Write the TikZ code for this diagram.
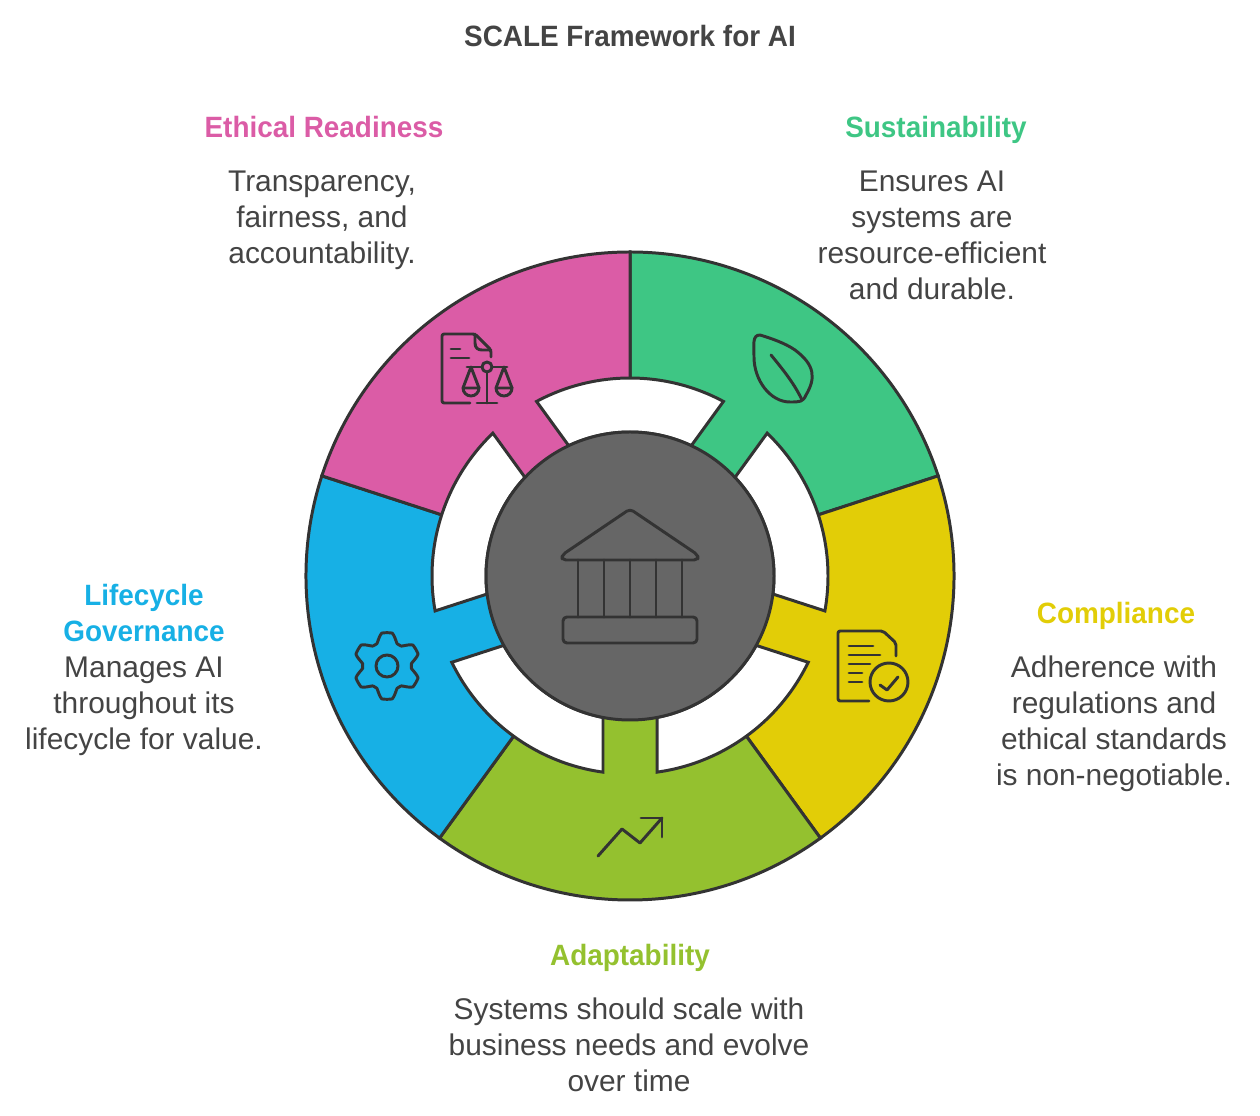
\documentclass[tikz,border=0pt]{standalone}
\usepackage{fontspec}
\setmainfont[BoldFeatures={FakeStretch=0.95}]{Liberation Sans}
\definecolor{framePink}{HTML}{DB5CA6}
\definecolor{frameGreen}{HTML}{3EC684}
\definecolor{frameYellow}{HTML}{E2CD07}
\definecolor{frameLime}{HTML}{94C12F}
\definecolor{frameBlue}{HTML}{17B0E5}
\definecolor{frameGrey}{HTML}{666666}
\definecolor{frameLine}{HTML}{333333}
\definecolor{frameText}{HTML}{444444}
\tikzset{
  wheelline/.style={draw=frameLine,line width=0.85pt},
  iconline/.style={draw=frameLine,line width=0.84pt,line cap=round,line join=round},
  bodytext/.style={font=\fontsize{8.5}{10.24}\selectfont,text=frameText,align=center,inner sep=0pt},
  headtext/.style={font=\fontsize{8.35}{10.24}\selectfont\bfseries,align=center,inner sep=0pt},
  declare function={gearr(\t)=28.8+4.5*max(-1,min(1,1.4*(-cos(6*\t))+0.2));},
}

\begin{document}
\begin{tikzpicture}[x=0.01cm,y=-0.01cm]

\useasboundingbox (0,0) rectangle (1260,1116);

% Outer segments
\foreach \segcol [count=\i] in {frameGreen,frameYellow,frameLime,frameBlue,framePink} {
  \pgfmathsetmacro{\angA}{-90+72*(\i-1)}
  \pgfmathsetmacro{\angB}{\angA+72}
  \filldraw[wheelline,fill=\segcol] (630,576) -- +(\angA:324) arc (\angA:\angB:324) -- cycle;
}

% White gaps between the strips
\begin{scope}[shift={(630,576)}]
\foreach \c in {-126,-54,18,90,162} {
  \pgfmathsetmacro{\angA}{\c+7.84}
  \pgfmathsetmacro{\angB}{\c+64.16}
  \pgfmathsetmacro{\angC}{\c+61.19}
  \pgfmathsetmacro{\angD}{\c+10.81}
  \filldraw[wheelline,fill=white] (\angA:198) arc (\angA:\angB:198) -- (\angC:144) arc (\angC:\angD:144) -- cycle;
}
\end{scope}

% Centre disc
\filldraw[wheelline,fill=frameGrey] (630,576) circle (144);

% Building
\draw[iconline,rounded corners=1.1pt] (630,509) -- (698,555) -- (698,560) -- (562,560) -- (562,555) -- cycle;
\foreach \x in {578,604,630,656,682} {
  \draw[iconline] (\x,560) -- (\x,617);
}
\draw[iconline,rounded corners=1.1pt] (563,617) rectangle (697,643);

% Document and scales
\draw[iconline,rounded corners=0.6pt] (470,403) -- (442,403) -- (442,334) -- (475,334) -- (491,350) -- (491,357);
\draw[iconline] (475,334) -- (475,343) .. controls (475,348) and (478,350) .. (482,350) -- (491,350);
\draw[iconline] (451,349) -- (460,349);
\draw[iconline] (451,358) -- (469,358);
\draw[iconline] (467,367) -- (482,367);
\draw[iconline] (492,367) -- (507,367);
\draw[iconline] (487,367) circle (5);
\draw[iconline] (487,372) -- (487,403);
\draw[iconline] (477,403) -- (497,403);
\draw[iconline] (463,388) -- (471,367) -- (479,388);
\draw[iconline] (463,388) -- (479,388) arc (0:180:8);
\draw[iconline] (496,388) -- (504,367) -- (512,388);
\draw[iconline] (496,388) -- (512,388) arc (0:180:8);

% Leaf
\draw[iconline] (760,335) .. controls (752,335) and (754,345) .. (754,357)
  .. controls (754,380) and (770,402) .. (790,402)
  .. controls (800,402) and (803,402) .. (806,395)
  .. controls (816,378) and (815,365) .. (795,350)
  .. controls (785,343) and (770,338) .. (760,335) -- cycle;
\draw[iconline] (771,355) .. controls (785,372) and (795,385) .. (802,400);

% Document with tick
\draw[iconline,rounded corners=0.6pt] (869,701) -- (838,701) -- (838,631) -- (883,631) -- (896,643) -- (896,656);
\draw[iconline] (849,646) -- (873,646);
\draw[iconline] (849,655) -- (880,655);
\draw[iconline] (849,664) -- (870,664);
\draw[iconline] (849,673) -- (862,673);
\draw[iconline] (849,682) -- (862,682);
\draw[iconline] (889,682) circle (19);
\draw[iconline] (880,685) -- (887,690) -- (898,677);

% Growth line
\draw[iconline] (598,856) -- (622,829) -- (640,843) -- (662,818);
\draw[iconline] (641,818) -- (662,818) -- (662,837);

% Gear
\draw[iconline] plot[domain=0:360,samples=121,smooth] ({387+gearr(\x)*cos(\x)},{666+gearr(\x)*sin(\x)}) -- cycle;
\draw[iconline] (387,666) circle (11);

% Title
\node[headtext,text=frameText] (title) at (630,36.5) {SCALE Framework for AI};

% Ethical Readiness
\node[headtext,text=framePink] (ethicalhead) at (324,127) {Ethical Readiness};
\node[bodytext] (ethicalbody) at (322,220) {Transparency,\\fairness, and\\accountability.};

% Sustainability
\node[headtext,text=frameGreen] (sustainhead) at (936,130) {Sustainability};
\node[bodytext] (sustainbody) at (932,235) {Ensures AI\\systems are\\resource-efficient\\and durable.};

% Compliance
\node[headtext,text=frameYellow] (compliancehead) at (1116,616) {Compliance};
\node[bodytext] (compliancebody) at (1114,724) {Adherence with\\regulations and\\ethical standards\\is non-negotiable.};

% Adaptability
\node[headtext,text=frameLime] (adapthead) at (630,958) {Adaptability};
\node[bodytext] (adaptbody) at (629,1045) {Systems should scale with\\business needs and evolve\\over time};

% Lifecycle Governance
\node[headtext,text=frameBlue] (lifecyclehead) at (144,613) {Lifecycle\\Governance};
\node[bodytext] (lifecyclebody) at (144,706) {Manages AI\\throughout its\\lifecycle for value.};

\end{tikzpicture}
\end{document}
